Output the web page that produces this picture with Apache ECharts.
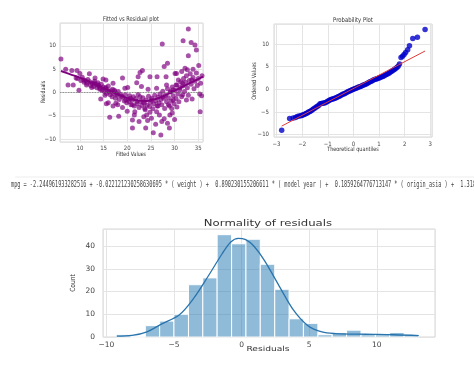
<!DOCTYPE html>
<html><head><meta charset="utf-8">
<script src="https://cdn.jsdelivr.net/npm/echarts@6/dist/echarts.min.js"></script>
<style>html,body{margin:0;padding:0;background:#fff}#c{width:474px;height:367px}</style>
</head><body><div id="c"></div>
<script>
// ---------- data ----------
const fittedResidual = [
[6.0,7.2],[7.0,5.0],[8.3,4.7],[9.4,4.7],[7.5,1.6],[8.6,1.6],[9.8,0.5],[10.0,4.1],[9.2,3.1],[10.8,2.7],
[11.5,2.0],[12.0,4.0],[13.2,3.1],[13.0,2.0],[13.9,1.6],[12.5,1.1],[14.2,0.7],[14.4,-1.4],[14.9,2.9],[15.5,2.7],
[15.5,1.1],[15.3,-0.6],[15.6,-2.4],[16.3,-5.3],[17.0,2.0],[16.9,0.7],[17.4,0.2],[17.9,-0.3],[17.6,-2.3],[18.2,-5.1],
[18.8,-0.8],[19.0,3.1],[19.5,0.9],[20.1,1.1],[19.7,-1.6],[20.4,-1.9],[20.7,-1.2],[21.1,-2.6],[21.1,-7.6],[21.1,-5.9],
[21.6,-4.1],[22.0,2.1],[22.0,-1.9],[22.3,3.4],[22.7,4.3],[23.2,4.7],[23.0,1.3],[22.7,-0.9],[23.4,-2.1],[23.7,-3.4],
[24.1,-4.8],[23.9,-7.6],[24.4,0.7],[24.8,3.4],[25.1,-1.6],[25.1,-5.5],[25.5,-8.6],[26.2,0.9],[26.3,3.4],[26.5,-2.9],
[26.2,-4.1],[26.8,-4.8],[27.1,-9.1],[27.4,10.4],[27.5,-0.9],[27.3,-6.2],[27.8,5.6],[28.2,3.4],[28.5,6.3],[28.3,1.6],
[28.7,-2.6],[28.9,-7.6],[29.0,-4.8],[29.4,-3.4],[29.7,-1.6],[30.1,4.1],[30.4,4.1],[30.3,1.6],[30.8,2.7],[31.1,0.6],
[31.5,4.5],[31.7,-0.5],[31.8,11.1],[32.5,-1.6],[32.9,13.6],[32.9,7.9],[32.7,4.9],[33.5,10.7],[33.6,2.7],[34.3,10.2],
[34.6,9.1],[35.1,5.8],[35.4,-4.1],[35.7,-0.7],[33.9,5.0],[32.2,5.2],[31.7,2.0],[29.7,0.6],[29.2,0.2],
[9.5,3.0],[10.2,2.6],[10.5,3.3],[10.9,2.2],[11.2,2.5],[11.4,1.6],[11.7,2.8],[12.1,2.3],[12.3,1.5],[12.6,2.0],
[12.9,1.3],[13.1,2.4],[13.4,1.8],[13.6,1.0],[13.8,2.1],[14.0,1.4],[14.3,0.9],[14.5,1.8],[14.7,0.5],[14.9,1.2],
[15.1,0.3],[15.4,0.9],[15.6,-0.2],[15.8,0.6],[16.0,1.4],[16.2,0.1],[16.4,-0.5],[16.6,0.4],[16.8,-0.9],[17.1,-0.2],
[17.3,0.5],[17.5,-1.2],[17.8,-0.6],[18.1,0.2],[18.3,-1.5],[18.6,-0.4],
[19.1,-1.0],[19.4,-1.8],[19.6,-0.5],[19.9,-2.2],[20.2,-1.4],[20.5,-0.7],[20.8,-2.6],[21.0,-1.6],[21.3,-0.9],[21.5,-2.9],
[21.8,-1.3],[22.1,-2.4],[22.3,-0.4],[22.5,-3.2],[22.8,-1.9],[23.1,-2.8],[23.3,-1.1],[23.6,-2.3],[23.8,-3.7],[24.0,-1.6],
[24.2,-2.7],[24.5,-0.8],[24.7,-3.0],[24.9,-2.1],[25.2,-1.2],[25.4,-3.5],[25.6,-2.4],[25.8,-0.6],[26.0,-1.8],[26.3,-2.9],
[26.5,-1.0],[26.7,-2.2],[26.9,-0.3],[27.1,-1.5],
[27.3,-2.6],[27.5,0.3],[27.7,-1.2],[27.9,-3.4],[28.1,-0.6],[28.3,-2.0],[28.5,0.8],[28.7,-1.1],[28.9,-2.9],[29.1,0.1],
[29.3,-1.8],[29.5,1.2],[29.7,-0.7],[29.9,-2.4],[30.1,0.5],[30.3,-1.3],[30.5,1.6],[30.7,-0.3],[30.9,-2.0],[31.1,1.0],
[31.3,2.3],[31.5,-0.9],[31.7,1.4],[31.9,3.0],[32.1,0.2],[32.3,2.2],[32.5,3.6],[32.7,1.0],[32.9,-0.6],[33.1,2.6],
[33.3,4.0],[33.5,1.8],[33.7,-1.4],[33.9,3.2],[34.1,0.8],[34.3,2.4],[34.6,4.2],[34.8,1.5],[35.0,3.0],[35.3,-0.3],
[35.5,2.0],[35.8,3.6],
[23.5,-5.2],[24.3,-6.0],[26.0,-6.8],[27.8,-5.6],[29.5,-4.4],[30.5,-3.1],[21.5,-4.8],[19.0,-3.2],[17.0,-2.9],[16.0,-2.2],
[22.5,-6.2],[24.8,-4.2],[28.5,-6.6],[30.0,-5.8],[20.0,-4.0],[18.0,-2.6]
];
const lowessCurve = [[6,4.6],[8,3.9],[10,3.2],[12,2.3],[14,1.4],[16,0.5],[18,-0.4],[20,-1.2],[22,-1.7],[24,-1.8],
  [26,-1.4],[28,-0.6],[30,0.4],[32,1.4],[34,2.4],[36,3.4]];

const qqPoints = [
[-2.80,-9.0],[-2.49,-6.4],[-2.35,-6.3],[-2.26,-6.2],[-2.19,-6.0],[-2.12,-5.9],[-2.05,-5.8],[-2.00,-5.7],[-1.95,-5.6],[-1.90,-5.5],
[-1.85,-5.3],[-1.80,-5.2],[-1.75,-5.0],[-1.70,-4.9],[-1.65,-4.7],[-1.60,-4.5],[-1.55,-4.3],[-1.50,-4.1],[-1.45,-3.9],[-1.40,-3.7],
[-1.35,-3.5],[-1.30,-3.2],[-1.25,-3.1],[-1.20,-3.05],[-1.15,-3.0],[-1.10,-2.95],[-1.05,-2.8],[-1.00,-2.6],[-0.95,-2.45],[-0.90,-2.3],
[-0.85,-2.2],[-0.80,-2.1],[-0.75,-2.0],[-0.70,-1.9],[-0.65,-1.8],[-0.60,-1.65],[-0.55,-1.5],[-0.50,-1.35],[-0.45,-1.2],[-0.40,-1.05],
[-0.35,-0.95],[-0.30,-0.8],[-0.25,-0.65],[-0.20,-0.5],[-0.15,-0.35],[-0.10,-0.25],[-0.05,-0.1],[0.00,0.0],[0.05,0.15],[0.10,0.25],
[0.15,0.35],[0.20,0.5],[0.25,0.6],[0.30,0.7],[0.35,0.85],[0.40,0.95],[0.45,1.05],[0.50,1.2],[0.55,1.35],[0.60,1.5],
[0.65,1.65],[0.70,1.8],[0.75,1.95],[0.80,2.1],[0.85,2.2],[0.90,2.3],[0.95,2.4],[1.00,2.5],[1.05,2.6],[1.10,2.75],
[1.15,2.85],[1.20,3.0],[1.25,3.15],[1.30,3.3],[1.35,3.45],[1.40,3.6],[1.45,3.8],[1.50,4.0],[1.55,4.2],[1.60,4.4],
[1.65,4.6],[1.70,4.8],[1.75,5.1],[1.80,5.6],[1.86,7.0],[1.92,7.3],[1.98,7.7],[2.04,8.1],[2.12,8.7],[2.19,9.6],
[2.32,11.2],[2.50,11.5],[2.80,13.2]
];
const qqFitLine = [[-2.8,-8.1],[2.8,8.45]];

const histEdges = [-9.25,-8.19,-7.12,-6.06,-5.00,-3.93,-2.87,-1.81,-0.74,0.32,1.38,2.45,3.51,4.57,5.64,6.70,7.76,8.83,9.89,10.95,12.02,13.08];
const histCounts = [1,0,5,7,10,23,26,45,41,43,32,21,8,6,1,2,3,1,1,2,1];
const kdeCurve = [[-9.24,0.4],[-8.1,0.7],[-7.0,2.3],[-5.9,5.8],[-4.6,9.8],[-3.55,17],[-2.5,26.5],[-1.45,36.5],[-0.8,41.8],
  [-0.25,43.4],[0.3,42.8],[0.9,40],[1.67,33.8],[2.78,22.4],[3.84,11.8],[4.88,5.1],[5.94,2.2],[6.97,1.5],[9.15,1.2],[11.3,1.0],[13.1,0.6]];

const equationText = 'mpg = -2.244961933282516 + -0.022121230258630695 * ( weight ) +  0.890230155206611 * ( model year ) +  0.1859264776713147 * ( origin_asia ) +  1.318';

// ---------- chart ----------
const narrow = "'Liberation Sans Narrow','DejaVu Sans Condensed','Roboto Condensed',sans-serif";
function fmt(step){ return v => (Math.abs(v/step - Math.round(v/step)) < 1e-6) ? String(Math.round(v)).replace('-', '\u2212') : ''; }
function axis(grid, min, max, step, fontSize, margin, family){
  return {type:'value', gridIndex:grid, min, max, minInterval:step, maxInterval:step, splitNumber:Math.round((max-min)/step),
    axisLine:{show:false}, axisTick:{show:false},
    splitLine:{show:true, lineStyle:{color:'#e4e4e4', width:1}},
    axisLabel:{fontSize, margin, color:'#444', fontFamily:family, formatter:fmt(step), hideOverlap:false}};
}
function txt(text, x, y, font, sx, rot, color){
  return {type:'text', x, y, scaleX:sx||1, rotation:rot||0, silent:true, z:10,
    style:{text, font, fill:color||'#333', align:'center', verticalAlign:'middle'}};
}

const histData = histCounts.map((c,i) => [histEdges[i], histEdges[i+1], c]);

const chart = echarts.init(document.getElementById('c'), null, {renderer:'canvas'});
chart.setOption({
  animation:false,
  backgroundColor:'#fff',
  grid:[
    {left:60, top:23, width:143, height:119, show:true, borderColor:'#d6d6d6', borderWidth:1, backgroundColor:'#fff'},
    {left:274, top:24, width:158, height:113, show:true, borderColor:'#d6d6d6', borderWidth:1, backgroundColor:'#fff'},
    {left:103, top:229, width:332, height:108, show:true, borderColor:'#d6d6d6', borderWidth:1, backgroundColor:'#fff'}
  ],
  xAxis:[ axis(0,5.8,36,5,6,3,narrow), axis(1,-3.1,3.07,1,6,4,narrow), axis(2,-10.25,14.3,5,7.5,4,'DejaVu Sans') ],
  yAxis:[ axis(0,-10.6,14.9,5,6,4,narrow), axis(1,-10.5,14.4,5,6,5,narrow), axis(2,0,47.5,10,7.5,8,'DejaVu Sans') ],
  graphic:[
    txt('Fitted vs Residual plot',131,19,'6.5px DejaVu Sans',0.78),
    txt('Fitted Values',131,154,'6px DejaVu Sans',0.78),
    txt('Residuals',43,92,'6px DejaVu Sans',0.78,Math.PI/2),
    txt('Probability Plot',353,20,'6.5px DejaVu Sans',0.82),
    txt('Theoretical quantiles',353,149,'6px DejaVu Sans',0.82),
    txt('Ordered Values',254,81,'6px DejaVu Sans',0.82,Math.PI/2),
    {type:'line', silent:true, shape:{x1:15,y1:177,x2:474,y2:177}, style:{stroke:'#ededed', lineWidth:1}},
    {type:'text', x:11, y:185, scaleX:0.614, silent:true,
      style:{text:equationText, font:'8.5px DejaVu Sans Mono', fill:'#444', align:'left', verticalAlign:'middle'}},
    txt('Normality of residuals',268,224,'9px DejaVu Sans',1.3,0,'#333'),
    txt('Residuals',268,349,'7px DejaVu Sans',1.3,0,'#333'),
    txt('Count',73,283,'7px DejaVu Sans',0.85,Math.PI/2,'#333')
  ],
  series:[
    {type:'scatter', xAxisIndex:0, yAxisIndex:0, data:fittedResidual, symbolSize:5,
      itemStyle:{color:'rgba(128,0,128,0.85)'},
      markLine:{silent:true, symbol:'none', label:{show:false}, data:[{yAxis:0}],
        lineStyle:{color:'#666', type:'dotted', width:0.8}}},
    {type:'line', xAxisIndex:0, yAxisIndex:0, data:lowessCurve, smooth:0.3, showSymbol:false,
      lineStyle:{color:'#800080', width:2}, z:3},
    {type:'scatter', xAxisIndex:1, yAxisIndex:1, data:qqPoints, symbolSize:5.5,
      itemStyle:{color:'#0000cc'}},
    {type:'line', xAxisIndex:1, yAxisIndex:1, data:qqFitLine, showSymbol:false,
      lineStyle:{color:'#e03a3a', width:1}, z:4},
    {type:'custom', xAxisIndex:2, yAxisIndex:2, data:histData,
      renderItem:(params, api) => {
        const p0 = api.coord([api.value(0), api.value(2)]);
        const p1 = api.coord([api.value(1), 0]);
        return {type:'rect', shape:{x:p0[0], y:p0[1], width:p1[0]-p0[0], height:p1[1]-p0[1]},
          style:{fill:'rgba(31,119,180,0.5)', stroke:'#fff', lineWidth:1}};
      }, encode:{x:[0,1], y:2}},
    {type:'line', xAxisIndex:2, yAxisIndex:2, data:kdeCurve, smooth:0.35, showSymbol:false,
      lineStyle:{color:'#2a74ad', width:1.3}, z:5}
  ]
});
</script></body></html>
